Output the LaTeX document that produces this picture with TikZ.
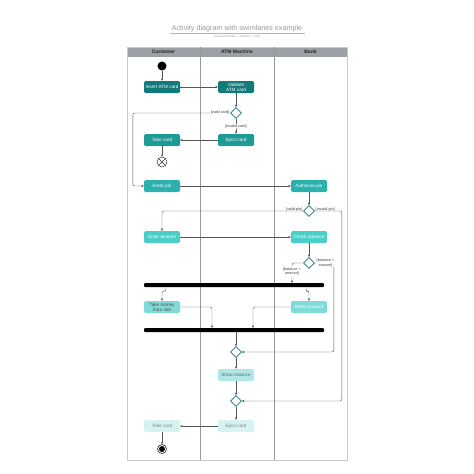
\documentclass[tikz,border=0pt]{standalone}
\usepackage{fontspec}
\setmainfont{Liberation Sans}
\usetikzlibrary{arrows.meta,shapes.geometric,positioning,calc}

\definecolor{actA}{HTML}{14797A}
\definecolor{actB}{HTML}{1E9A97}
\definecolor{actC}{HTML}{2BB2AE}
\definecolor{actD}{HTML}{4CCDCA}
\definecolor{actE}{HTML}{7FDBD8}
\definecolor{actF}{HTML}{AEE8E6}
\definecolor{actG}{HTML}{D6F3F2}
\definecolor{lanegray}{HTML}{9BA0A6}
\definecolor{framegray}{HTML}{C9C9C9}
\definecolor{wire}{HTML}{555555}

\begin{document}
\begin{tikzpicture}[
        x=1pt, y=-1pt,
        act/.style = {
                rectangle,
                rounded corners=1.5pt,
                minimum width=36pt,
                minimum height=12pt,
                text width=33pt,
                align=center,
                inner sep=0.5pt,
                font=\fontsize{4.6}{5}\selectfont,
            },
        decision/.style = {
                diamond,
                draw=actA,
                line width=0.8pt,
                fill=white,
                minimum size=11pt,
                inner sep=0pt,
            },
        bar/.style = {
                rectangle,
                fill=black,
                rounded corners=1pt,
                minimum width=180pt,
                minimum height=4pt,
                inner sep=0pt,
            },
        lbl/.style = {
                font=\fontsize{3.8}{4.2}\selectfont,
                text=black!75,
                inner sep=0.6pt,
                align=center,
            },
        flow/.style = {
                draw=wire,
                line width=0.4pt,
                rounded corners=2pt,
                -{Triangle[length=2.2pt,width=2pt]},
            },
    ]
    \useasboundingbox (0,0) rectangle (474,474);

    % title
    \node[text=black!40, font=\fontsize{7.2}{8}\selectfont] (title) at (237,29) {Activity diagram with swimlanes example};
    \draw[black!30, line width=0.6pt] (170,33.5) -- (305,33.5);
    \node[text=black!40, font=\fontsize{2.8}{3}\selectfont] (subtitle) at (237,37) {System Template \ \textbar\ \ October 1, 2019};

    % lanes
    \fill[lanegray] (127,47) rectangle (347,57);
    \draw[framegray, line width=0.6pt] (127,47) rectangle (347,460);
    \draw[black!40, line width=0.5pt] (200,47) -- (200,460) (274,47) -- (274,460);
    \foreach \x/\lane in {163.5/Customer, 237/ATM Machine, 310.5/Bank}
    \node[font=\fontsize{5}{5.5}\selectfont\bfseries, text=black!85] at (\x,52) {\lane};

    % nodes
    \node[circle, fill=black, minimum size=9pt, inner sep=0pt] (start) at (162,66) {};
    \node[act, fill=actA, text=white] (insert) at (162,87) {Insert ATM card};
    \node[act, fill=actA, text=white] (validate) at (236,87) {Validate ATM card};
    \node[decision] (d1) at (236,113) {};
    \node[act, fill=actB, text=white] (eject1) at (236,140) {Eject card};
    \node[act, fill=actB, text=white] (take1) at (162,140) {Take card};
    \node[circle, draw=black!80, line width=0.5pt, minimum size=10pt, inner sep=0pt] (stop) at (162,162) {};
    \draw[black!80, line width=0.5pt] (stop.north west) -- (stop.south east) (stop.north east) -- (stop.south west);
    \node[act, fill=actC, text=white] (pin) at (162,186) {Enter pin};
    \node[act, fill=actC, text=white] (auth) at (309,186) {Authorize pin};
    \node[decision] (d2) at (309,211) {};
    \node[act, fill=actD, text=white] (amount) at (162,237) {Enter amount};
    \node[act, fill=actD, text=white] (check) at (309,237) {Check balance};
    \node[decision] (d3) at (309,263) {};
    \node[bar] (fork) at (234,285) {};
    \node[act, fill=actE, text=black!70] (money) at (162,307) {Take money from slot};
    \node[act, fill=actE, text=white] (debit) at (309,307) {Debit account};
    \node[bar] (join) at (234,330) {};
    \node[decision] (d4) at (236,352) {};
    \node[act, fill=actF, text=black!60] (show) at (236,375) {Show balance};
    \node[decision] (d5) at (236,401) {};
    \node[act, fill=actG, text=black!50] (eject2) at (236,426) {Eject card};
    \node[act, fill=actG, text=black!50] (take2) at (162,426) {Take card};
    \node[circle, draw=black, line width=0.5pt, minimum size=9pt, inner sep=0pt] (finish) at (162,449) {};
    \fill[black] (finish) circle (3pt);

    % connectors
    \draw[flow] (start) -- (insert);
    \draw[flow] (insert) -- (validate);
    \draw[flow] (validate) -- (d1);
    \draw[flow] (d1) -- node[lbl, fill=white] {[invalid card]} (eject1);
    \draw[flow] (d1.west) -| ($(pin.west)+(-11,0)$) -- (pin.west);
    \node[lbl, fill=white, anchor=east] at (d1.west) {[valid card]};
    \draw[flow] (eject1) -- (take1);
    \draw[flow] (take1) -- (stop);
    \draw[flow] (pin) -- (auth);
    \draw[flow] (auth) -- (d2);
    \draw[flow] (d2.west) -| (amount.north);
    \node[lbl, anchor=south east] at ([yshift=-1pt]d2.west) {[valid pin]};
    \draw[flow] (d2.east) -| ([xshift=100pt]d5.east) -- (d5.east);
    \node[lbl, anchor=south west] at ([yshift=-1pt]d2.east) {[invalid pin]};
    \draw[flow] (amount) -- (check);
    \draw[flow] (check) -- (d3);
    \draw[flow] (d3.east) -| ([xshift=92pt]d4.east) -- (d4.east);
    \node[lbl, fill=white, anchor=west] at ([xshift=1pt]d3.east) {[balance <\\amount]};
    \draw[flow] (d3.west) -| node[lbl, fill=white, pos=0.72] {[balance >\\amount]} ([xshift=58pt]fork.north);
    \draw[flow] ([xshift=-68pt]fork.south) -- ++(0,4) -| (money.north);
    \draw[flow] ([xshift=72pt]fork.south) -- ++(0,4) -| (debit.north);
    \draw[flow] (money.east) -| ([xshift=-22pt]join.north);
    \draw[flow] (debit.west) -| ([xshift=19pt]join.north);
    \draw[flow] (join.south -| d4.north) -- (d4.north);
    \draw[flow] (d4) -- (show);
    \draw[flow] (show) -- (d5);
    \draw[flow] (d5) -- (eject2);
    \draw[flow] (eject2) -- (take2);
    \draw[flow] (take2) -- (finish);
\end{tikzpicture}
\end{document}
